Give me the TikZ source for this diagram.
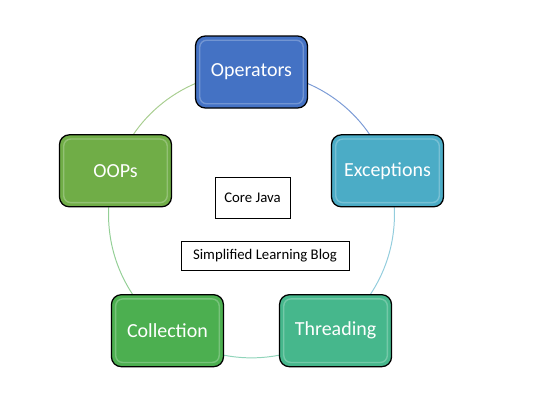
\documentclass[tikz,border=0pt]{standalone}
\usepackage{fontspec}
\setmainfont{Carlito}
\usepackage{xcolor}
\definecolor{opblue}{RGB}{68,114,196}
\definecolor{excaqua}{RGB}{75,172,198}
\definecolor{thrteal}{RGB}{70,183,140}
\definecolor{colgreen}{RGB}{76,175,80}
\definecolor{oopgreen}{RGB}{112,173,71}
\usepackage{tikz}
\usetikzlibrary{positioning, backgrounds}

\begin{document}
\begin{tikzpicture}[
  topic/.style={rectangle, rounded corners=7pt, draw=black, line width=0.9pt,
                minimum width=2.8cm, minimum height=1.8cm, align=center,
                text=white, font=\fontsize{14.2}{16}\selectfont,
                path picture={\draw[white, opacity=0.25, line width=1pt, rounded corners=5pt]
                  ([shift={(3pt,3pt)}]path picture bounding box.south west) rectangle
                  ([shift={(-3pt,-3pt)}]path picture bounding box.north east);}},
  label/.style={rectangle, draw=black, line width=0.6pt, align=center,
                font=\fontsize{10.5}{12}\selectfont},
  ring/.style={line width=0.7pt, bend left=36, looseness=0.94}
]
  \useasboundingbox (-6.2875,-4.75) rectangle (7.2125,5.375);

  % Topics
  \node[topic, fill=opblue] (op) at (90:3.575) {Operators};
  \node[topic, fill=excaqua] (exc) at (18:3.575) {Exceptions};
  \node[topic, fill=thrteal] (thr) at (-54:3.575) {Threading};
  \node[topic, fill=colgreen] (col) at (-126:3.575) {Collection};
  \node[topic, fill=oopgreen] (oop) at (162:3.575) {OOPs};

  % Titles
  \node[label, minimum width=1.875cm, minimum height=1.025cm] (core) at (0.025,0.4375) {Core Java};
  \node[label, minimum width=4.2cm, minimum height=0.725cm] (blog) at (0.3375,-1.0125) {Simplified Learning Blog};

  % Ring
  \begin{scope}[on background layer]
    \draw[ring, opblue!70] (op.center) to (exc.center);
    \draw[ring, excaqua!60] (exc.center) to (thr.center);
    \draw[ring, thrteal!60] (thr.center) to (col.center);
    \draw[ring, colgreen!60] (col.center) to (oop.center);
    \draw[ring, oopgreen!60] (oop.center) to (op.center);
  \end{scope}
\end{tikzpicture}
\end{document}
